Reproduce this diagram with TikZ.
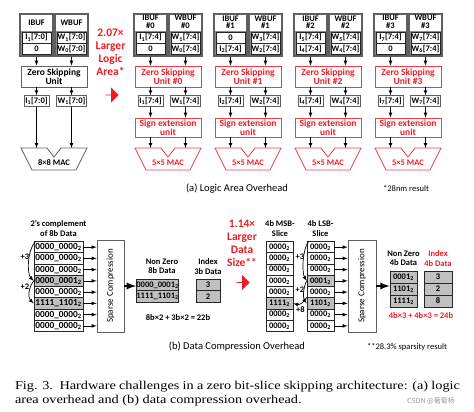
\documentclass[tikz,border=0pt]{standalone}
\usepackage{fontspec}
\usepackage{graphicx}
\setmainfont{Carlito}
\newfontfamily\capfont[FakeStretch=1.19]{Liberation Serif}
\newfontfamily\cjkfont{Noto Sans CJK SC}
\usetikzlibrary{arrows,shapes,positioning}
\definecolor{hot}{RGB}{236,28,36}
\definecolor{edge}{RGB}{95,95,95}
\definecolor{shade}{RGB}{192,192,192}
\definecolor{band}{RGB}{140,140,140}
\newcommand\slc[2]{#1\textsubscript{#2}[7:4]}
\tikzstyle{bufbox} = [rectangle, draw=edge, line width=1.3pt, fill=white,
  minimum width=33pt, minimum height=42pt, inner sep=0pt]
\tikzstyle{bandbox} = [rectangle, fill=band, minimum width=31pt,
  minimum height=24pt, inner sep=0pt]
\tikzstyle{cell} = [rectangle, draw=black!85, line width=0.6pt, fill=white,
  minimum width=29pt, minimum height=11pt, inner sep=0pt,
  font=\bfseries\fontsize{8.5}{8.5}\selectfont]
\tikzstyle{hdr} = [align=center, inner sep=0pt, font=\bfseries\fontsize{8.5}{7.5}\selectfont]
\tikzstyle{unit} = [rectangle, draw=edge, line width=0.8pt, fill=white,
  minimum width=66pt, minimum height=21pt, inner sep=0pt, align=center,
  font=\bfseries\fontsize{9.5}{9.5}\selectfont]
\tikzstyle{redunit} = [unit, draw=hot!85, text=hot]
\tikzstyle{outcell} = [rectangle, draw=edge, line width=1pt, fill=white,
  minimum width=25pt, minimum height=10.5pt, inner xsep=1.2pt, inner ysep=0pt,
  font=\bfseries\fontsize{8.5}{8.5}\selectfont]
\tikzstyle{slot} = [rectangle, draw=black!85, line width=0.6pt, fill=white,
  minimum height=11.25pt, inner sep=0pt, font=\bfseries\fontsize{8.5}{8.5}\selectfont]
\tikzstyle{sparse} = [rectangle, draw=edge, line width=0.8pt, fill=white,
  minimum width=27pt, minimum height=92pt, inner sep=0pt,
  font=\fontsize{9}{9}\selectfont]
\tikzstyle{note} = [align=center, inner sep=0pt, font=\bfseries\fontsize{8.5}{9.5}\selectfont]
\tikzstyle{big} = [align=center, inner sep=0pt, text=hot,
  font=\bfseries\fontsize{11.5}{13}\selectfont]
\tikzstyle{arr} = [-latex, line width=0.7pt]
\tikzstyle{fat} = [-latex, line width=2.2pt]
\tikzstyle{redarrow} = [single arrow, fill=hot, minimum height=13pt,
  minimum width=15pt, single arrow head extend=3.5pt, inner sep=0pt]

\begin{document}
\begin{tikzpicture}[x=1pt, y=-1pt]
    \useasboundingbox (0,0) rectangle (474,412);

    \node[bufbox] (ibufp) at (36.5,35) {};
    \node[bufbox] (wbufp) at (71.5,35) {};
    \node[hdr] (hip) at (36.5,22.5) {IBUF};
    \node[hdr] (hwp) at (71.5,22.5) {WBUF};
    \node[bandbox] (gip) at (36.5,43.25) {};
    \node[bandbox] (gwp) at (71.5,43.25) {};
    \node[cell] (iap) at (36.5,37.5) {I\textsubscript{1}[7:0]};
    \node[cell] (ibp) at (36.5,49) {0};
    \node[cell] (wap) at (71.5,37.5) {W\textsubscript{1}[7:0]};
    \node[cell] (wbp) at (71.5,49) {W\textsubscript{0}[7:0]};
    \node[unit] (zsup) at (54,76.5) {Zero Skipping\\Unit};
    \node[outcell] (ioutp) at (36.5,101) {I\textsubscript{1}[7:0]};
    \node[outcell] (woutp) at (71.5,101) {W\textsubscript{1}[7:0]};
    \draw[draw=edge, line width=0.8pt] (21,148) -- (47,148) -- (54,157) -- (61,148)
      -- (87,148) -- (76,170) -- (32,170) -- cycle;
    \node[note] (macp) at (54,162.5) {8×8 MAC};
    \coordinate (mactopp) at (54,148);

    \draw[arr] (ibufp.south) -- (ibufp.south |- zsup.north);
    \draw[arr] (wbufp.south) -- (wbufp.south |- zsup.north);
    \draw[arr] (ioutp |- zsup.south) -- (ioutp.north);
    \draw[arr] (woutp |- zsup.south) -- (woutp.north);
    \draw[arr] (ioutp.south) -- (ioutp.south |- mactopp);
    \draw[arr] (woutp.south) -- (woutp.south |- mactopp);

    \node[big] (gaina) at (110.5,52) {2.07×\\Larger\\Logic\\Area*};
    \node[redarrow] (pusha) at (112,95) {};

    \foreach \k/\x/\ia/\ib/\wa/\wb/\io/\wo in {
      0/134/\slc{I}{1}/0/\slc{W}{1}/\slc{W}{0}/\slc{I}{1}/\slc{W}{1},
      1/214/0/\slc{I}{2}/\slc{W}{3}/\slc{W}{2}/\slc{I}{2}/\slc{W}{2},
      2/294/\slc{I}{5}/\slc{I}{4}/\slc{W}{5}/\slc{W}{4}/\slc{I}{4}/\slc{W}{4},
      3/374/\slc{I}{7}/0/\slc{W}{7}/\slc{W}{6}/\slc{I}{7}/\slc{W}{7}} {
      \node[bufbox] (ibuf\k) at (\x+16.5,35) {};
      \node[bufbox] (wbuf\k) at (\x+51.5,35) {};
      \node[hdr] (hi\k) at (\x+16.5,22) {IBUF\\\#\k};
      \node[hdr] (hw\k) at (\x+51.5,22) {WBUF\\\#\k};
      \node[bandbox] (gi\k) at (\x+16.5,43.25) {};
      \node[bandbox] (gw\k) at (\x+51.5,43.25) {};
      \node[cell] (ia\k) at (\x+16.5,37.5) {\ia};
      \node[cell] (ib\k) at (\x+16.5,49) {\ib};
      \node[cell] (wa\k) at (\x+51.5,37.5) {\wa};
      \node[cell] (wb\k) at (\x+51.5,49) {\wb};
      \node[redunit] (zsu\k) at (\x+34,76.5) {Zero Skipping\\Unit \#\k};
      \node[outcell] (iout\k) at (\x+16.5,101) {\io};
      \node[outcell] (wout\k) at (\x+51.5,101) {\wo};
      \node[redunit, minimum height=19pt] (sign\k) at (\x+34,127.5) {Sign extension\\unit};
      \draw[draw=hot!85, line width=0.8pt] (\x+1,148) -- (\x+27,148) -- (\x+34,157)
        -- (\x+41,148) -- (\x+67,148) -- (\x+56,170) -- (\x+12,170) -- cycle;
      \node[note, text=hot] (mac\k) at (\x+34,162.5) {5×5 MAC};
      \coordinate (mactop\k) at (\x+34,148);
      \draw[arr] (ibuf\k.south) -- (ibuf\k.south |- zsu\k.north);
      \draw[arr] (wbuf\k.south) -- (wbuf\k.south |- zsu\k.north);
      \draw[arr] (iout\k |- zsu\k.south) -- (iout\k.north);
      \draw[arr] (wout\k |- zsu\k.south) -- (wout\k.north);
      \draw[arr] (iout\k.south) -- (iout\k.south |- sign\k.north);
      \draw[arr] (wout\k.south) -- (wout\k.south |- sign\k.north);
      \draw[arr] (iout\k |- sign\k.south) -- (iout\k |- mactop\k);
      \draw[arr] (wout\k |- sign\k.south) -- (wout\k |- mactop\k);
    }

    \node[inner sep=0pt, font=\fontsize{10.5}{12}\selectfont] (capa) at (237,189) {(a) Logic Area Overhead};
    \node[inner sep=0pt, font=\fontsize{8.5}{10}\selectfont] (fna) at (406,189) {*28nm result};

    \node[note] (hdrc) at (58.5,228.5) {2's complement\\of 8b Data};
    \foreach \v/\f [count=\i from 0] in {0000\_0000/white, 0000\_0000/white, 0000\_0000/white,
      0000\_0001/shade, 0000\_0000/white, 1111\_1101/shade, 0000\_0000/white, 0000\_0000/white} {
      \node[slot, fill=\f, minimum width=49pt, font=\bfseries\fontsize{9.3}{9}\selectfont] (c\i) at (58.5,247.125+11.25*\i) {\v\textsubscript{2}};
    }
    \node[sparse] (spa) at (110.5,286) {\rotatebox{90}{Sparse Compression}};
    \foreach \i in {0,...,7} {
      \draw[arr] (c\i.east) -- (c\i.east -| spa.west);
    }
    \draw[arr] ([xshift=2pt]c0.north west) .. controls (27,250) and (27,274) .. (c3.west);
    \draw[arr] (c3.west) .. controls (28,288) and (28,298) .. (c5.west);
    \node[note] (stepa) at (25,257) {+3};
    \node[note] (stepb) at (25,287) {+2};

    \node[note] (nzha) at (162,266.5) {Non Zero\\8b Data};
    \node[note] (idha) at (208,266.5) {Index\\3b Data};
    \node[slot, fill=shade, minimum width=39pt, minimum height=11.5pt] (nza0) at (157.5,285) {0000\_0001\textsubscript{2}};
    \node[slot, fill=shade, minimum width=39pt, minimum height=11.5pt] (nza1) at (157.5,296.5) {1111\_1101\textsubscript{2}};
    \node[slot, fill=shade, minimum width=24pt, minimum height=11.5pt] (ida0) at (208,285) {3};
    \node[slot, fill=shade, minimum width=24pt, minimum height=11.5pt] (ida1) at (208,296.5) {2};
    \draw[fat] (spa.east) -- (spa.east -| nza0.west);
    \node[note] (suma) at (178,318) {8b×2 + 3b×2 = 22b};

    \node[big] (gainb) at (242,243) {1.14×\\Larger\\Data\\Size**};
    \node[redarrow] (pushb) at (243,282.5) {};

    \node[note] (hdrm) at (280,228.5) {4b MSB-\\Slice};
    \node[note] (hdrl) at (320.5,228.5) {4b LSB-\\Slice};
    \foreach \v/\f [count=\i from 0] in {0000/white, 0000/white, 0000/white, 0000/white,
      0000/white, 1111/shade, 0000/white, 0000/white} {
      \node[slot, fill=\f, minimum width=27pt] (m\i) at (279.5,247.125+11.25*\i) {\v\textsubscript{2}};
    }
    \foreach \v/\f [count=\i from 0] in {0000/white, 0000/white, 0000/white, 0001/shade,
      0000/white, 1101/shade, 0000/white, 0000/white} {
      \node[slot, fill=\f, minimum width=27pt] (l\i) at (320.5,247.125+11.25*\i) {\v\textsubscript{2}};
    }
    \node[sparse, minimum width=28pt] (spb) at (362,286) {\rotatebox{90}{Sparse Compression}};
    \foreach \i in {0,...,7} {
      \draw[arr] (l\i.east) -- (l\i.east -| spb.west);
    }
    \draw[arr] ([xshift=2pt]l0.north west) .. controls (302,250) and (302,273) .. (l3.west);
    \draw[arr] (l3.west) .. controls (303,288) and (303,298) .. (l5.west);
    \draw[arr] (l5.north west) .. controls (304,303) and (299,305) .. (m5.east);
    \node[note] (stepc) at (300,257) {+3};
    \node[note] (stepd) at (300,290) {+2};
    \node[note] (stepe) at (300.5,310) {+8};

    \node[note] (nzhb) at (403.5,258.5) {Non Zero\\4b Data};
    \node[note, text=hot] (idhb) at (438,258.5) {Index\\4b Data};
    \foreach \v/\n [count=\i from 0] in {0001/3, 1101/2, 1111/8} {
      \node[slot, fill=shade, minimum width=27pt, minimum height=12pt] (nzb\i) at (403.5,277+12*\i) {\v\textsubscript{2}};
      \node[slot, fill=shade, minimum width=28pt, minimum height=12pt] (idb\i) at (438,277+12*\i) {\n};
    }
    \draw[fat] (spb.east) -- (spb.east -| nzb0.west);
    \node[note, text=hot] (sumb) at (421,316) {4b×3 + 4b×3 = 24b};

    \node[inner sep=0pt, font=\fontsize{10.5}{12}\selectfont] (capb) at (237,347) {(b) Data Compression Overhead};
    \node[inner sep=0pt, font=\fontsize{8.5}{10}\selectfont] (fnb) at (407,347) {**28.3\% sparsity result};

    \node[text width=445pt, align=justify, inner sep=0pt,
      font=\capfont\fontsize{12}{14}\selectfont] (fig) at (237.5,394)
      {Fig. 3.\ \ Hardware challenges in a zero bit-slice skipping architecture: (a) logic\linebreak
       area overhead and (b) data compression overhead.};
    \node[inner sep=0pt, text=black!40, font=\cjkfont\fontsize{7}{8}\selectfont] (mark) at (431,401) {CSDN @葡萄杨};
  \end{tikzpicture}
\end{document}
